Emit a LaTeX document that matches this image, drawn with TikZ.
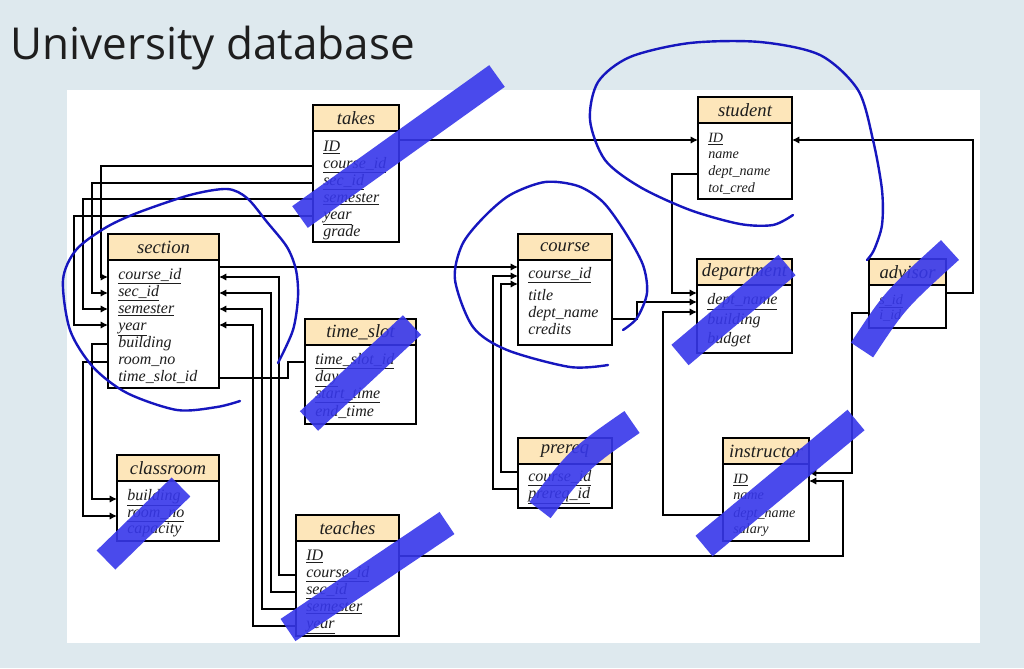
\documentclass[tikz,border=0pt]{standalone}
\usepackage{fontspec}
\newfontfamily\titlefont{Open Sans}
\newfontfamily\tblfont{Liberation Serif}
\usetikzlibrary{arrows.meta,calc}
\definecolor{bgblue}{RGB}{222,233,238}
\definecolor{hdrfill}{RGB}{253,230,186}
\definecolor{inkblue}{RGB}{22,22,190}
\definecolor{strikeblue}{RGB}{55,55,235}
\definecolor{txt}{RGB}{30,30,30}

\newcommand{\ertable}[8]{%
  \node[hdr, minimum width=#4*0.75pt, minimum height=26*0.75pt] (#1H) at (#2,#3) {#6};
  \node[bodyb, minimum width=#4*0.75pt, minimum height=#5*0.75pt] (#1B) at (#1H.south west) {};
  \foreach \k/\o/\t in {#8}{%
    \node[attr, font=\tblfont\fontsize{#7}{#7}\selectfont\itshape] (#1-\k) at ($(#1B.north west)+(10,\o)$) {\t};
  }%
}

\begin{document}
\begin{tikzpicture}[x=0.75pt,y=-0.75pt,
  hdr/.style={draw=black, line width=1.1pt, fill=hdrfill, inner sep=0pt, outer sep=0pt, anchor=north west,
              text=txt, font=\tblfont\fontsize{14}{16}\selectfont\itshape},
  bodyb/.style={draw=black, line width=1.1pt, fill=white, inner sep=0pt, outer sep=0pt, anchor=north west},
  attr/.style={anchor=base west, inner sep=0pt, text=txt},
  wire/.style={line width=0.9pt, black},
  arr/.style={wire, -{Latex[length=5.5pt,width=5.5pt]}},
  ring/.style={inkblue, line width=1.8pt, line cap=round},
  strike/.style={strikeblue, opacity=0.9, line width=20pt, line cap=butt}]

\fill[bgblue] (0,0) rectangle (1024,668);
\useasboundingbox (0,0) rectangle (1024,668);
\fill[white] (67,90) rectangle (980,643);

\node[anchor=base west, inner sep=0pt, text=txt, font=\titlefont\fontsize{33}{40}\selectfont] (title) at (10,59) {University database};

% tables
\ertable{takes}{313}{105}{86}{111}{takes}{12}{a/20/{\underline{ID}}, b/37/{\underline{course\_id}}, c/54/{\underline{sec\_id}}, d/71/{\underline{semester}}, e/88/{\underline{year}}, f/105/{grade}}
\ertable{section}{108}{234}{111}{128}{section}{12}{a/19/{\underline{course\_id}}, b/36/{\underline{sec\_id}}, c/53/{\underline{semester}}, d/70/{\underline{year}}, e/87/{building}, f/104/{room\_no}, g/121/{time\_slot\_id}}
\ertable{tslot}{305}{319}{111}{79}{time\_slot}{12}{a/19/{\underline{time\_slot\_id}}, b/36/{\underline{day}}, c/53/{\underline{start\_time}}, d/71/{end\_time}}
\ertable{classroom}{117}{455}{102}{60}{classroom}{12}{a/19/{\underline{building}}, b/36/{\underline{room\_no}}, c/52/{capacity}}
\ertable{teaches}{296}{515}{103}{95}{teaches}{12}{a/19/{\underline{ID}}, b/36/{\underline{course\_id}}, c/53/{\underline{sec\_id}}, d/70/{\underline{semester}}, e/87/{\underline{year}}}
\ertable{course}{518}{234}{94}{85}{course}{12}{a/18/{\underline{course\_id}}, b/40/{title}, c/57/{dept\_name}, d/74/{credits}}
\ertable{prereq}{518}{438}{94}{44}{prereq}{12}{a/17/{\underline{course\_id}}, b/34/{\underline{prereq\_id}}}
\ertable{student}{698}{97}{94}{76}{student}{10.6}{a/19/{\underline{ID}}, b/35/{name}, c/52/{dept\_name}, d/69/{tot\_cred}}
\ertable{department}{697}{259}{95}{68}{department}{12}{a/19/{\underline{dept\_name}}, b/39/{building}, c/58/{budget}}
\ertable{advisor}{869}{259}{77}{43}{advisor}{10.6}{a/19/{\underline{s\_id}}, b/34/{i\_id}}
\ertable{instructor}{723}{438}{86}{77}{instructor}{10.6}{a/19/{\underline{ID}}, b/35/{name}, c/53/{dept\_name}, d/69/{salary}}

% connectors
\draw[arr] (takesB.east |- 0,140) -- (studentB.west |- 0,140);
\draw[arr] (takesB.west |- 0,166) -| (101,277) -- (sectionB.west |- 0,277);
\draw[arr] (takesB.west |- 0,183) -| (92,293) -- (sectionB.west |- 0,293);
\draw[arr] (takesB.west |- 0,199) -| (83,309) -- (sectionB.west |- 0,309);
\draw[arr] (takesB.west |- 0,216) -| (74,325) -- (sectionB.west |- 0,325);

\draw[arr] (sectionB.west |- 0,344) -| (92,499) -- (classroomB.west |- 0,499);
\draw[arr] (sectionB.west |- 0,362) -| (83,516) -- (classroomB.west |- 0,516);
\draw[wire] (sectionB.east |- 0,378) -| (288,362) -- (tslotB.west |- 0,362);
\draw[arr] (sectionB.east |- 0,267) -- (courseB.west |- 0,267);

\draw[arr] (teachesB.west |- 0,575) -| (279,277) -- (sectionB.east |- 0,277);
\draw[arr] (teachesB.west |- 0,592) -| (271,293) -- (sectionB.east |- 0,293);
\draw[arr] (teachesB.west |- 0,609) -| (262,309) -- (sectionB.east |- 0,309);
\draw[arr] (teachesB.west |- 0,626) -| (253,325) -- (sectionB.east |- 0,325);

\draw[arr] (prereqB.west |- 0,472) -| (501,284) -- (courseB.west |- 0,284);
\draw[arr] (prereqB.west |- 0,489) -| (493,276) -- (courseB.west |- 0,276);

\draw[arr] (courseB.east |- 0,319) -| (637,302) -- (departmentB.west |- 0,302);
\draw[arr] (studentB.west |- 0,174) -| (672,293) -- (departmentB.west |- 0,293);
\draw[arr] (instructorB.west |- 0,515) -| (663,312) -- (departmentB.west |- 0,312);

\draw[arr] (advisorB.east |- 0,293) -| (973,140) -- (studentB.east |- 0,140);
\draw[arr] (advisorB.west |- 0,313) -| (852,473) -- (instructorB.east |- 0,473);
\draw[arr] (teachesB.east |- 0,556) -| (843,481) -- (instructorB.east |- 0,481);

% hand-drawn annotations
\draw[ring] plot[smooth] coordinates {(240,401) (217,407) (177,410) (127,393) (93,367) (70,330) (63,280) (76,250) (105,228) (137,213) (190,195) (227,189) (247,198) (267,222) (287,247) (296,270) (298,297) (293,330) (278,363)};
\draw[ring] plot[smooth] coordinates {(608,365) (570,367) (507,350) (473,327) (455,280) (462,245) (483,218) (510,195) (545,182) (578,186) (603,202) (625,232) (643,265) (647,293) (637,318) (623,330)};
\draw[ring] plot[smooth] coordinates {(793,215) (773,225) (740,224) (690,210) (640,187) (605,160) (590,120) (598,82) (630,57) (690,43) (760,42) (820,55) (858,90) (873,140) (882,190) (882,225) (874,250) (867,260)};

\draw[strike] (300,217) -- (497,76);
\draw[strike] (309,421) -- (412,325);
\draw[strike] (106,560) -- (181,487);
\draw[strike] (288,630) -- (447,523);
\draw[strike] (540,510) .. controls (580,458) .. (632,422);
\draw[strike] (680,355) -- (787,265);
\draw[strike] (862,350) .. controls (895,300) .. (950,250);
\draw[strike] (704,546) -- (856,420);
\end{tikzpicture}
\end{document}
